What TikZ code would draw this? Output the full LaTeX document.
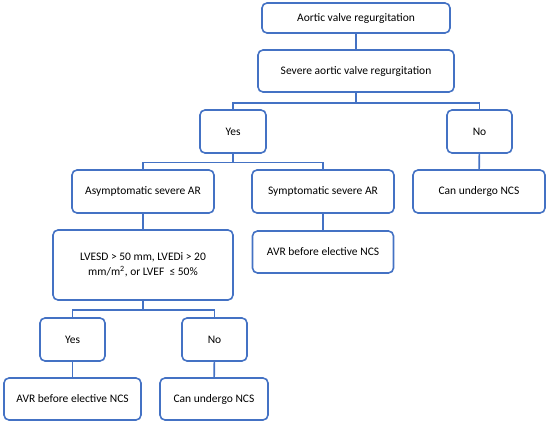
\documentclass[tikz,border=0pt]{standalone}
\usepackage{fontspec}
\setmainfont{Carlito}
\usepackage{tikz}

\definecolor{boxblue}{RGB}{68,114,196}
\tikzset{
  flowbox/.style={draw=boxblue, line width=1.6pt, rounded corners=5pt, fill=white,
    inner sep=2pt, align=center, font=\fontsize{11.5}{15}\selectfont},
  flowline/.style={draw=boxblue, line width=1.6pt}
}

\begin{document}
\begin{tikzpicture}[x=1pt,y=1pt,yscale=-1,xscale=1]
\useasboundingbox (0,0) rectangle (550,426);

%Shape: Rounded Rect [top]
\node [flowbox, minimum width=188, minimum height=30] (avr) at (356,18) {Aortic valve regurgitation};
%Shape: Rounded Rect [severe]
\node [flowbox, minimum width=196, minimum height=42] (severe) at (356,71) {Severe aortic valve regurgitation};
%Shape: Rounded Rect [yes / no]
\node [flowbox, minimum width=66, minimum height=43] (yesA) at (233,131.5) {Yes};
\node [flowbox, minimum width=65, minimum height=43] (noA) at (479.5,131.5) {No};
%Shape: Rounded Rect [third row]
\node [flowbox, minimum width=142, minimum height=43] (asym) at (143,191.5) {Asymptomatic severe AR};
\node [flowbox, minimum width=142, minimum height=43] (sym) at (323,191.5) {Symptomatic severe AR};
\node [flowbox, minimum width=132, minimum height=43] (canA) at (479,191.5) {Can undergo NCS};
%Shape: Rounded Rect [fourth row]
\node [flowbox, minimum width=180, minimum height=70] (lv) at (143,265) {LVESD > 50 mm, LVEDi > 20\\ mm/m\textsuperscript{2}, or LVEF \ ≤ 50\%};
\node [flowbox, minimum width=141, minimum height=42] (avrA) at (323,252) {AVR before elective NCS};
%Shape: Rounded Rect [yes / no, lower]
\node [flowbox, minimum width=65, minimum height=43] (yesB) at (72.5,339.5) {Yes};
\node [flowbox, minimum width=65, minimum height=43] (noB) at (214.5,339.5) {No};
%Shape: Rounded Rect [bottom row]
\node [flowbox, minimum width=137, minimum height=42] (avrB) at (72.5,399) {AVR before elective NCS};
\node [flowbox, minimum width=108, minimum height=42] (canB) at (214,399) {Can undergo NCS};

%Straight Lines
\draw [flowline] (avr) -- (severe);
\draw [flowline] (severe.south) -- ++(0,10) -| (yesA.north);
\draw [flowline] (severe.south) -- ++(0,10) -| (noA.north);
\draw [flowline] (yesA.south) -- ++(0,8.5) -| (asym.north);
\draw [flowline] (yesA.south) -- ++(0,8.5) -| (sym.north);
\draw [flowline] (noA) -- (canA);
\draw [flowline] (asym) -- (lv);
\draw [flowline] (sym) -- (avrA);
\draw [flowline] (lv.south) -- ++(0,9) -| (yesB.north);
\draw [flowline] (lv.south) -- ++(0,9) -| (noB.north);
\draw [flowline] (yesB) -- (avrB);
\draw [flowline] (noB) -- (canB);

\end{tikzpicture}
\end{document}
